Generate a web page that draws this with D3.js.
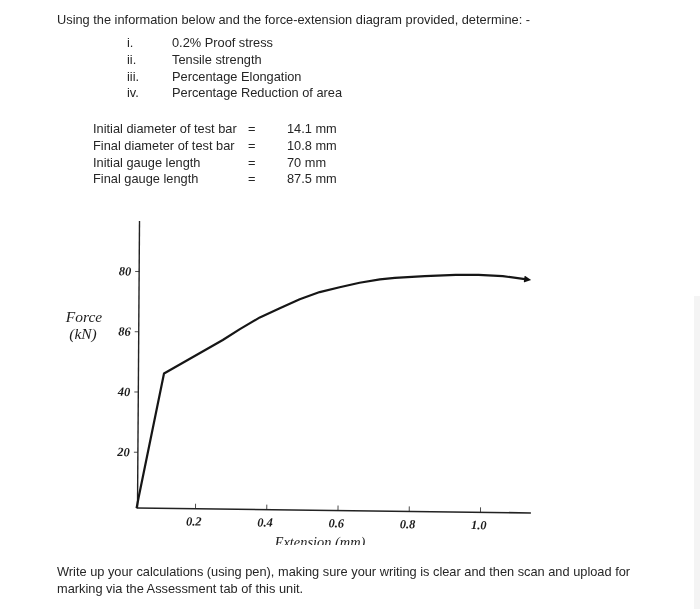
<!DOCTYPE html>
<html>
<head>
<meta charset="utf-8">
<script src="https://cdn.jsdelivr.net/npm/d3@7"></script>
<style>
  html, body { margin: 0; padding: 0; background: #fff; }
  svg { display: block; filter: blur(0.3px); }
  .doc text { font-family: "Liberation Sans", Arial, sans-serif; font-size: 12.8px; fill: #262626; }
  .chart text { font-family: "Liberation Serif", "Times New Roman", serif; font-style: italic; fill: #1c1c1c; }
  .axis text { font-size: 12.5px; font-weight: bold; }
  .axis path, .axis line { stroke: #222; }
</style>
</head>
<body>
<svg id="page" width="700" height="609"></svg>
<script>
var heading = "Using the information below and the force-extension diagram provided, determine: -";
var numerals = ["i.", "ii.", "iii.", "iv."];
var tasks = ["0.2% Proof stress", "Tensile strength", "Percentage Elongation", "Percentage Reduction of area"];
var measureNames = ["Initial diameter of test bar", "Final diameter of test bar", "Initial gauge length", "Final gauge length"];
var measureValues = ["14.1 mm", "10.8 mm", "70 mm", "87.5 mm"];
var footer = ["Write up your calculations (using pen), making sure your writing is clear and then scan and upload for",
  "marking via the Assessment tab of this unit."];

var extension = [0.036, 0.042, 0.113, 0.278, 0.326, 0.382, 0.438, 0.494, 0.550, 0.606, 0.662, 0.719, 0.761, 0.845, 0.932, 0.996, 1.064, 1.126];
var force = [1.3, 5, 46, 57.1, 60.7, 64.6, 67.6, 70.6, 73, 74.6, 76.1, 77.2, 77.7, 78.3, 78.7, 78.7, 78.3, 77.3];

var xTicks = [0.2, 0.4, 0.6, 0.8, 1.0];
var yTicks = [20, 40, 60, 80];
// the scan really does print 86 where 60 should be
var yTickLabels = ["20", "40", "86", "80"];

var svg = d3.select("#page");

// grey sliver of the next panel on the right edge
svg.append("rect").attr("x", 694).attr("y", 296).attr("width", 6).attr("height", 313).attr("fill", "#f4f4f4");

// ---- document text ----
var doc = svg.append("g").attr("class", "doc");

function column(list, x, y0, step) {
  doc.append("g").selectAll("text").data(list).enter().append("text")
    .attr("x", x)
    .attr("y", function(d, i) { return y0 + i * step; })
    .text(function(d) { return d; });
}

column([heading], 57, 24, 0);
column(numerals, 127, 47, 16.8);
column(tasks, 172, 47, 16.8);
column(measureNames, 93, 133, 16.8);
column(measureNames.map(function() { return "="; }), 248, 133, 16.8);
column(measureValues, 287, 133, 16.8);
column(footer, 57, 576, 17);

// ---- chart ----
var x = d3.scaleLinear().domain([0.2, 1.0]).range([195, 480]);
var y = d3.scaleLinear().domain([0, 80]).range([512, 271]);

var chart = svg.append("g").attr("class", "chart");

svg.append("defs").append("marker")
  .attr("id", "arrow")
  .attr("viewBox", "0 0 10 10")
  .attr("refX", 1).attr("refY", 5)
  .attr("markerWidth", 8).attr("markerHeight", 7)
  .attr("orient", "auto")
  .attr("markerUnits", "userSpaceOnUse")
  .append("path").attr("d", "M0,0L10,5L0,10Z").attr("fill", "#111");

svg.select("defs").append("clipPath").attr("id", "cut")
  .append("rect").attr("x", 200).attr("y", 530).attr("width", 300).attr("height", 15);

// x axis, scanned slightly crooked so it runs downhill
var xAxis = d3.axisBottom(x)
  .tickValues(xTicks)
  .tickFormat(d3.format(".1f"))
  .tickSizeInner(-5)
  .tickSizeOuter(0)
  .tickPadding(7);

var xg = chart.append("g")
  .attr("class", "axis")
  .attr("transform", "translate(0,512) rotate(0.72 137 -4) ")
  .call(xAxis);
xg.select(".domain").attr("d", "M" + x(0.036) + ",-4H" + x(1.143)).attr("stroke-width", 1.6);
xg.selectAll(".tick line").attr("y1", -4).attr("y2", -9).attr("stroke-width", 0.8);
xg.selectAll(".tick text").attr("y", 4).attr("dx", -1.5);

// y axis leans the other way by a hair
var yAxis = d3.axisLeft(y)
  .tickValues(yTicks)
  .tickFormat(function(d) { return yTickLabels[yTicks.indexOf(d)]; })
  .tickSizeInner(4)
  .tickSizeOuter(0)
  .tickPadding(4);

var yg = chart.append("g")
  .attr("class", "axis")
  .attr("transform", "translate(138.5,0) rotate(0.4 0 365)")
  .call(yAxis);
yg.select(".domain").attr("d", "M0,221V508").attr("stroke-width", 1.4);
yg.selectAll(".tick line").attr("stroke-width", 0.8);

// force-extension curve, straight segments so the kink stays sharp
var line = d3.line()
  .x(function(d, i) { return x(extension[i]); })
  .y(function(d) { return y(d); });

chart.append("path")
  .datum(force)
  .attr("d", line)
  .attr("fill", "none")
  .attr("stroke", "#161616")
  .attr("stroke-width", 2.2)
  .attr("stroke-linejoin", "round")
  .attr("marker-end", "url(#arrow)");

// axis titles
chart.append("text").attr("x", 84).attr("y", 322).attr("text-anchor", "middle")
  .attr("font-size", 15.5).text("Force");
chart.append("text").attr("x", 83).attr("y", 339).attr("text-anchor", "middle")
  .attr("font-size", 15.5).text("(kN)");
chart.append("g").attr("clip-path", "url(#cut)").append("text")
  .attr("x", 320).attr("y", 547).attr("text-anchor", "middle")
  .attr("font-size", 14.4).text("Extension (mm)");
</script>
</body>
</html>
